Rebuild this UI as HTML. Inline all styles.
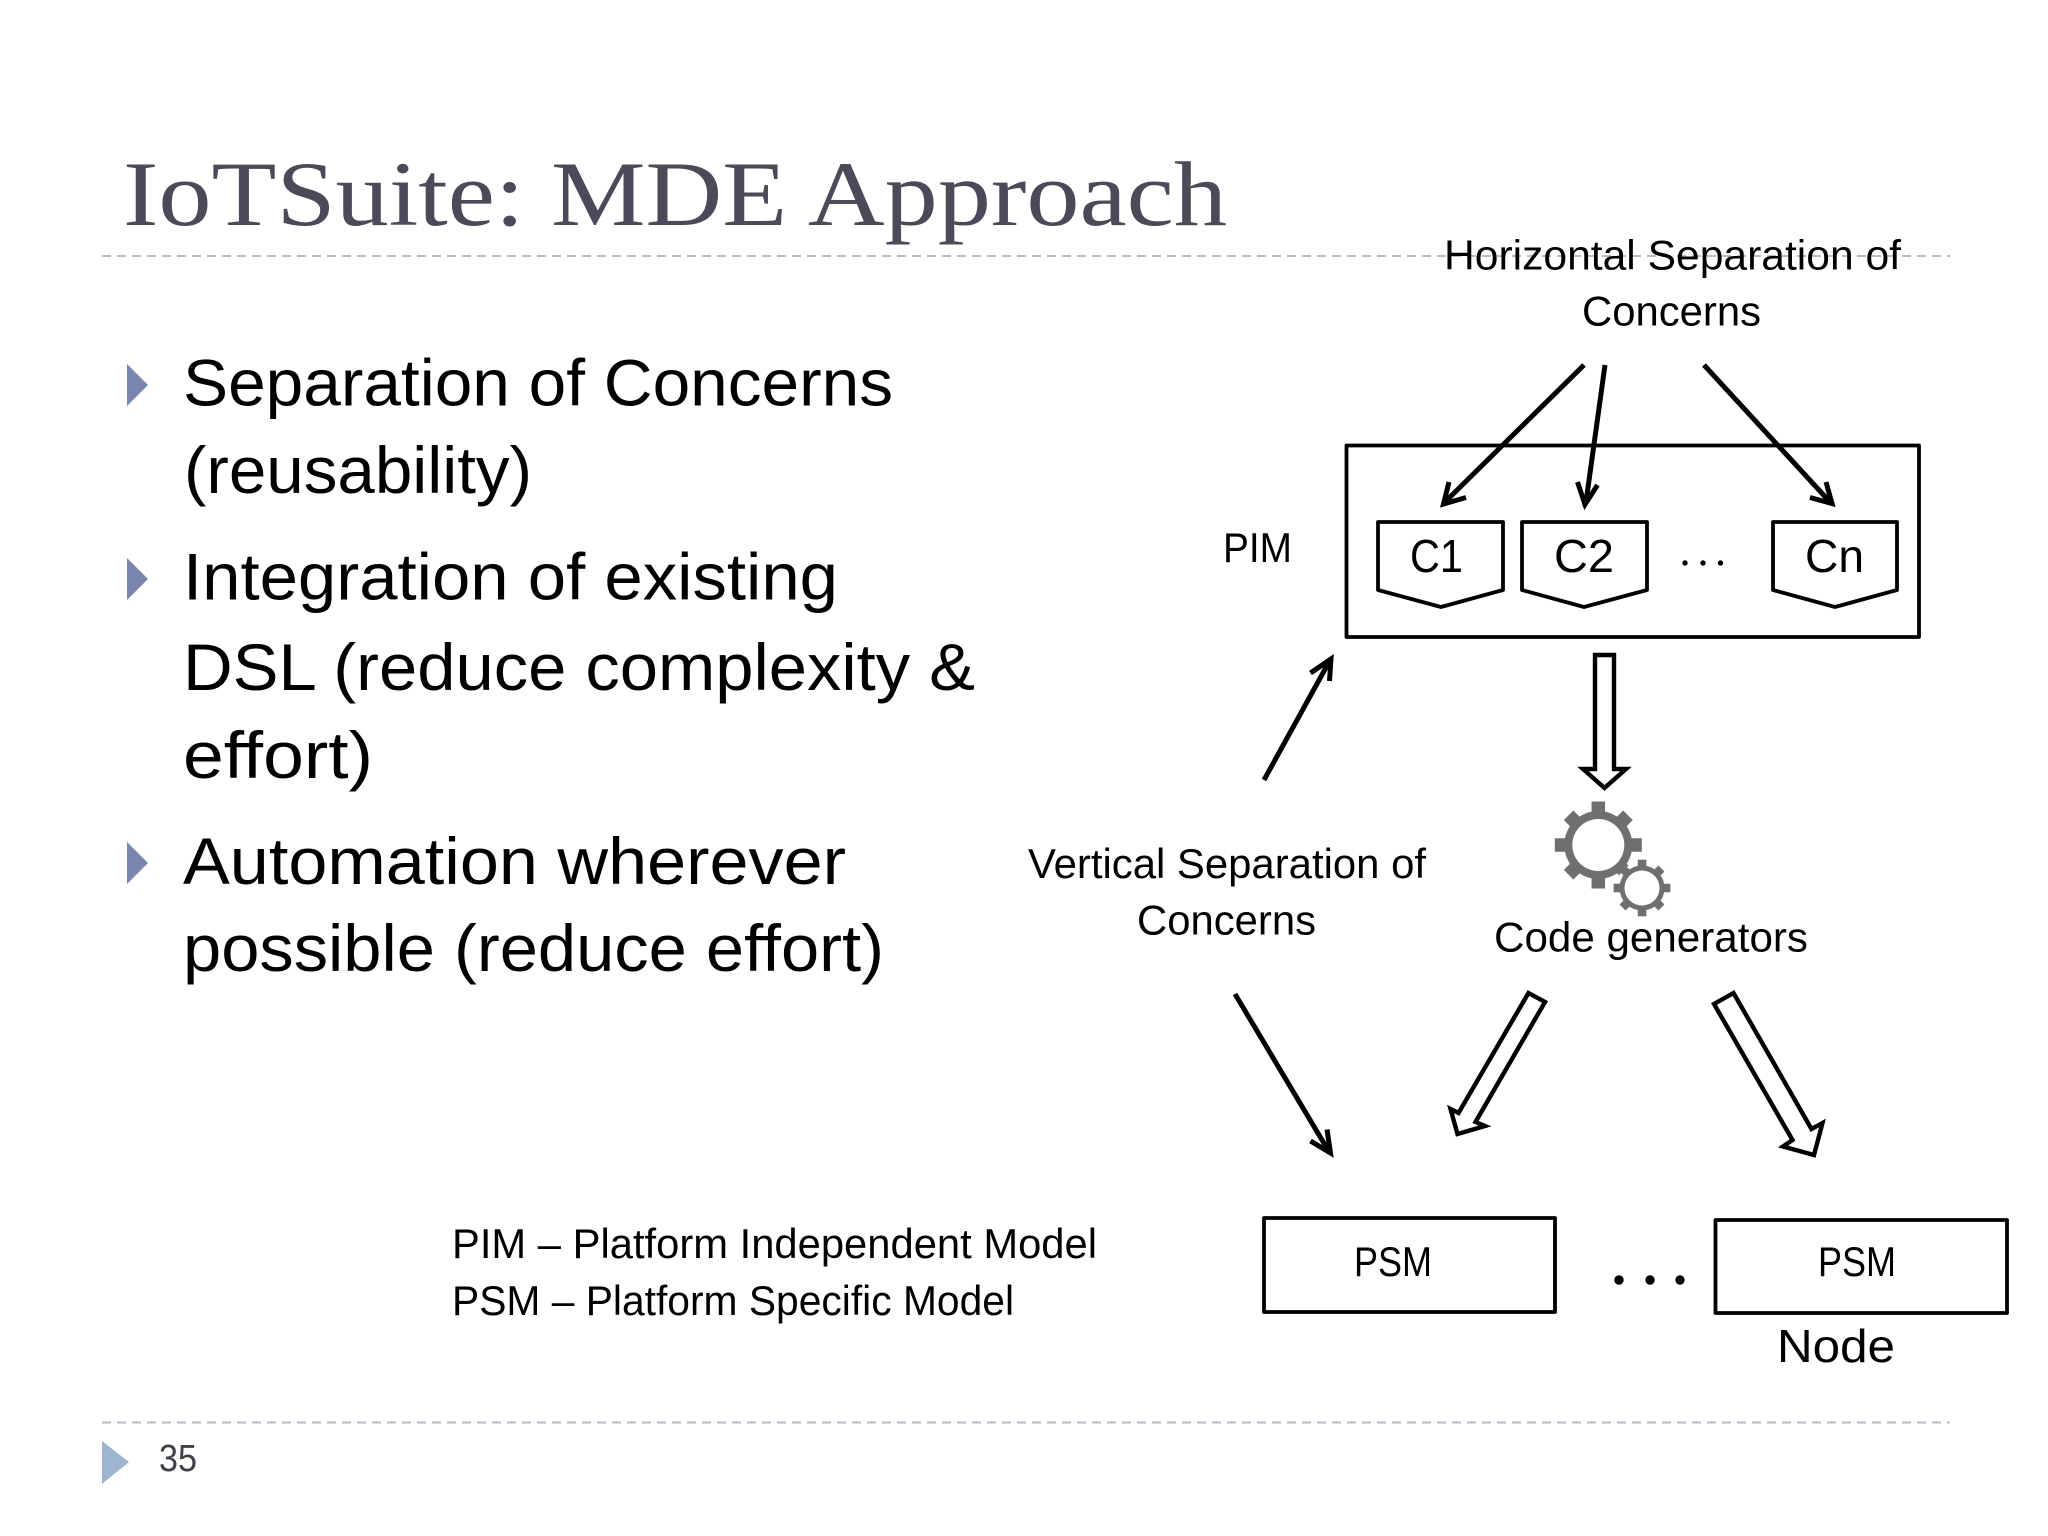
<!DOCTYPE html>
<html><head><meta charset="utf-8"><title>IoTSuite: MDE Approach</title>
<style>
html,body{margin:0;padding:0;background:#fff;width:2048px;height:1536px;overflow:hidden}
svg{display:block}
text{font-family:"Liberation Sans",sans-serif;fill:#000}
</style></head><body>
<svg width="2048" height="1536" viewBox="0 0 2048 1536" xmlns="http://www.w3.org/2000/svg">
<rect width="2048" height="1536" fill="#fff"/>
<!-- rules -->
<line x1="102" y1="256" x2="1950" y2="256" stroke="#b4bdc9" stroke-width="2" stroke-dasharray="9 6"/>
<line x1="102" y1="1422.5" x2="1950" y2="1422.5" stroke="#b4bdc9" stroke-width="2" stroke-dasharray="9 6"/>
<!-- title -->
<text x="123" y="225" font-size="92" textLength="1104" lengthAdjust="spacingAndGlyphs" style="font-family:'Liberation Serif',serif;fill:#4a4a58">IoTSuite: MDE Approach</text>
<!-- bullets -->
<polygon points="127,364 148,385 127,406" fill="#7a86ad"/>
<polygon points="127,558 148,579 127,600" fill="#7a86ad"/>
<polygon points="127,842 148,863 127,884" fill="#7a86ad"/>
<g font-size="66">
<text x="183" y="405.5" textLength="710" lengthAdjust="spacingAndGlyphs">Separation of Concerns</text>
<text x="184" y="493" textLength="348" lengthAdjust="spacingAndGlyphs">(reusability)</text>
<text x="183" y="599.5" textLength="655" lengthAdjust="spacingAndGlyphs">Integration of existing</text>
<text x="183" y="690" textLength="792" lengthAdjust="spacingAndGlyphs">DSL (reduce complexity &amp;</text>
<text x="183" y="778" textLength="190" lengthAdjust="spacingAndGlyphs">effort)</text>
<text x="183" y="884" textLength="663" lengthAdjust="spacingAndGlyphs">Automation wherever</text>
<text x="183" y="971" textLength="701" lengthAdjust="spacingAndGlyphs">possible (reduce effort)</text>
</g>
<!-- legend -->
<g font-size="42">
<text x="452" y="1258" textLength="645" lengthAdjust="spacingAndGlyphs">PIM – Platform Independent Model</text>
<text x="452" y="1315" textLength="562" lengthAdjust="spacingAndGlyphs">PSM – Platform Specific Model</text>
</g>
<!-- diagram labels -->
<g font-size="42">
<text x="1444" y="269.5" textLength="457" lengthAdjust="spacingAndGlyphs">Horizontal Separation of</text>
<text x="1582" y="325.5" textLength="179" lengthAdjust="spacingAndGlyphs">Concerns</text>
<text x="1223" y="562" textLength="69" lengthAdjust="spacingAndGlyphs">PIM</text>
<text x="1028" y="878" textLength="398" lengthAdjust="spacingAndGlyphs">Vertical Separation of</text>
<text x="1137" y="934.5" textLength="179" lengthAdjust="spacingAndGlyphs">Concerns</text>
<text x="1494" y="951.5" textLength="314" lengthAdjust="spacingAndGlyphs">Code generators</text>
<text x="1354" y="1276" textLength="78" lengthAdjust="spacingAndGlyphs">PSM</text>
<text x="1818" y="1276" textLength="78" lengthAdjust="spacingAndGlyphs">PSM</text>
</g>
<text x="1777" y="1362" font-size="46" textLength="118" lengthAdjust="spacingAndGlyphs">Node</text>
<!-- PIM box -->
<g fill="none" stroke="#000" stroke-width="3.8" stroke-linejoin="round">
<rect x="1346.5" y="445.5" width="572.5" height="191.5"/>
<polygon points="1378,522 1503,522 1503,590 1441,607 1378,590"/>
<polygon points="1522,522 1647,522 1647,590 1584,607 1522,590"/>
<polygon points="1773,522 1897,522 1897,590 1835,607 1773,590"/>
<rect x="1264" y="1218" width="291" height="94"/>
<rect x="1715.5" y="1220" width="291.5" height="93"/>
</g>
<g font-size="46">
<text x="1410" y="572" textLength="53" lengthAdjust="spacingAndGlyphs">C1</text>
<text x="1554" y="572" textLength="60" lengthAdjust="spacingAndGlyphs">C2</text>
<text x="1805" y="572" textLength="59" lengthAdjust="spacingAndGlyphs">Cn</text>
</g>
<circle cx="1685" cy="563" r="2.7"/><circle cx="1703" cy="563" r="2.7"/><circle cx="1720.5" cy="563" r="2.7"/>
<circle cx="1619" cy="1280" r="4.7"/><circle cx="1650" cy="1280" r="4.7"/><circle cx="1680" cy="1280" r="4.7"/>
<!-- stick arrows -->
<g fill="none" stroke="#000" stroke-width="5">
<line x1="1584" y1="365" x2="1445" y2="502"/>
<polyline points="1449,482 1443.5,504 1466,497.5"/>
<line x1="1605" y1="365" x2="1586" y2="502"/>
<polyline points="1577.5,482 1585,504.5 1597.5,485"/>
<line x1="1704" y1="365" x2="1830" y2="502"/>
<polyline points="1826,482 1832,503.5 1810,497.5"/>
<line x1="1264" y1="780" x2="1329" y2="662"/>
<polyline points="1310.5,673 1331,659 1329.5,681"/>
<line x1="1235" y1="994" x2="1328" y2="1150"/>
<polyline points="1327,1129.5 1330.5,1153 1310.5,1141"/>
</g>
<!-- block arrows -->
<g fill="#fff" stroke="#000" stroke-width="4.4" stroke-linejoin="miter">
<polygon points="1595,655 1614,655 1614,769 1626,769 1604.5,788 1583,769 1595,769"/>
<polygon points="1528.5,993 1545,1002 1475.5,1122 1485,1126 1457.5,1134 1450.5,1109 1458.5,1113"/>
<polygon points="1733.5,993 1714,1004 1792.5,1140 1783,1146.5 1814,1155 1822.5,1123 1811.5,1129"/>
</g>
<!-- gears -->
<g fill="#6f6f70">
<g transform="translate(1598.3 845)">
<rect x="-43.5" y="-6.75" width="87" height="13.5"/>
<rect x="-42" y="-6.75" width="84" height="13.5" transform="rotate(45)"/>
<rect x="-43.5" y="-6.75" width="87" height="13.5" transform="rotate(90)"/>
<rect x="-42" y="-6.75" width="84" height="13.5" transform="rotate(135)"/>
<circle r="34"/><circle r="26" fill="#fff"/>
</g>
<g transform="translate(1642 888)">
<circle r="26" fill="#fff"/>
<rect x="-28.3" y="-4.25" width="56.6" height="8.5"/>
<rect x="-27.5" y="-4.25" width="55" height="8.5" transform="rotate(45)"/>
<rect x="-28.3" y="-4.25" width="56.6" height="8.5" transform="rotate(90)"/>
<rect x="-27.5" y="-4.25" width="55" height="8.5" transform="rotate(135)"/>
<circle r="22.5"/><circle r="17.5" fill="#fff"/>
</g>
</g>
<!-- footer -->
<polygon points="102,1441 129,1462 102,1484" fill="#9db5cf"/>
<text x="159" y="1471" font-size="38" textLength="38" lengthAdjust="spacingAndGlyphs" style="fill:#404048">35</text>
</svg>
</body></html>
